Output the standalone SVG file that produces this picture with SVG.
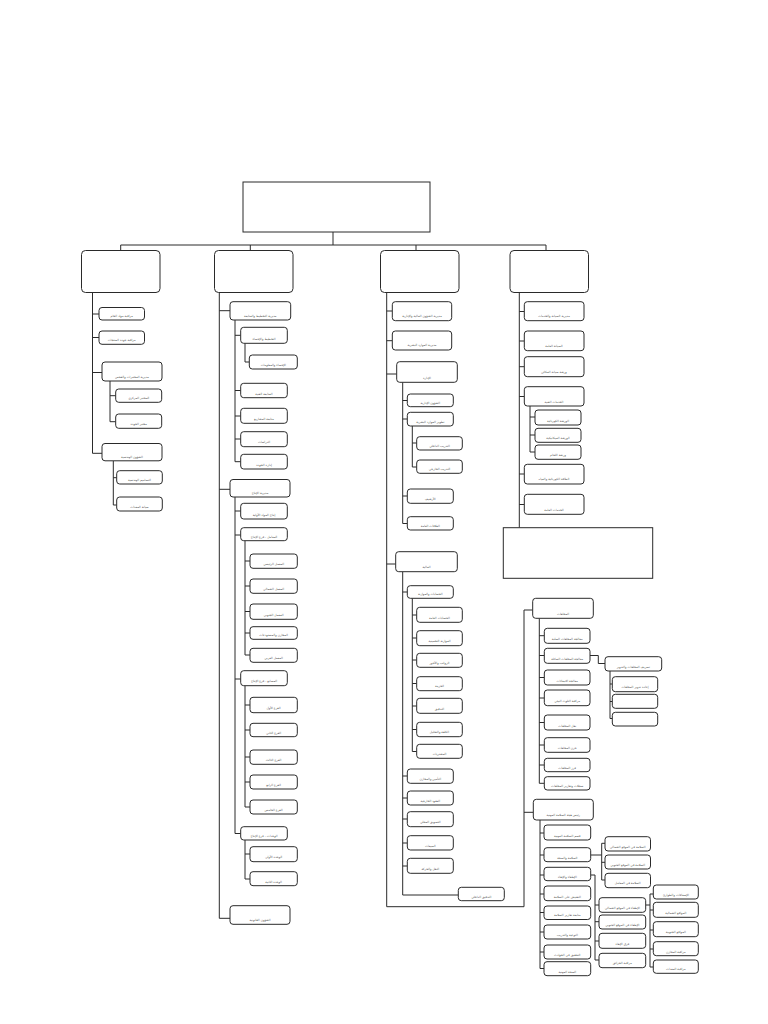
<svg xmlns="http://www.w3.org/2000/svg" width="768" height="1024" viewBox="0 0 768 1024">
<style>
rect{fill:#fff;stroke:#2a2a2a;stroke-width:1}
.n{rx:3;ry:3}
.b{rx:4;ry:4}
#connectors path{fill:none;stroke:#2a2a2a;stroke-width:1}
text{font-family:"DejaVu Sans",sans-serif;font-size:3.1px;fill:#555;text-anchor:middle}
</style>
<rect x="0" y="0" width="768" height="1024" style="stroke:none;fill:#fff"/>
<g id="connectors">
<path d="M333 232V245M120.7 245H546M120.7 245V250.5M250.3 245V250.5M416 245V250.5M546 245V250.5"/>
<path d="M92.5 292.5V453.3M92.5 314H99M92.5 337.5H99M92.5 372.5H102M92.5 453.3H102M110 381V421.7M110 395.7H115.7M110 421.7H115.7M113.3 461V505M113.3 477.7H116.7M113.3 505H116.7"/>
<path d="M219.3 292.5V918.3M219.3 310.7H230M219.3 489.3H230M219.3 918.3H230M235 320V461.7M235 335.3H240.7M235 390.5H240.7M235 416H240.7M235 439H240.7M235 461.7H240.7M245 343.3V362H249.3M235 497V833.5M235 511H240.7M235 535H240.7M235 679H240.7M235 833.5H240.7M245 540.7V655M245 561H250M245 586H250M245 611.5H250M245 633H250M245 655H250M245 685.7V807M245 705H250M245 730H250M245 757H250M245 782H250M245 807H250M245 840V879M245 854H250M245 879H250"/>
<path d="M386.7 292.5V906.7H524V610H532.7M386.7 311H392.3M386.7 340.7H392.3M386.7 374H396.7M386.7 564H395.7M402.7 382.3V523.5M402.7 400.5H407.3M402.7 419H407.3M402.7 496H407.3M402.7 523.5H407.3M412.3 426V467M412.3 443H416.7M412.3 467H416.7M402.7 571.7V895H458.3M402.7 592H407.3M402.7 776H407.3M402.7 798H407.3M402.7 819H407.3M402.7 843H407.3M402.7 866H407.3M412.3 598.3V751.5M412.3 615H416.7M412.3 638H416.7M412.3 660H416.7M412.3 683.5H416.7M412.3 706H416.7M412.3 729.5H416.7M412.3 751.5H416.7"/>
<path d="M519.3 292.5V527.7M519.3 311.5H524.3M519.3 341H524.3M519.3 366.7H524.3M519.3 396.5H524.3M519.3 474H524.3M519.3 504.5H524.3M530 406V452M530 417H535M530 435H535M530 452H535"/>
<path d="M539.3 618.3V783.3M539.3 635.7H544.3M539.3 655.5H544.3M539.3 677.5H544.3M539.3 698H544.3M539.3 722.5H544.3M539.3 745H544.3M539.3 765H544.3M539.3 783.3H544.3M590 655.5H598.3V663.5H605M610 671V718.5M610 684H612.3M610 701.5H612.3M610 718.5H612.3"/>
<path d="M524 812.3H533.3M540 820V968.5M540 833H544M540 855H544M540 875H544M540 894H544M540 912.5H544M540 932H544M540 952H544M540 968.5H544M590.7 855H601.7M601.7 843.3V880M601.7 843.3H605M601.7 862.3H605M601.7 880H605M590.7 875H595V960M595 905H599M595 921.7H599M595 941H599M595 960H599M645.7 905H650M650 894V967M650 894H653.3M650 910H653.3M650 930H653.3M650 949H653.3M650 967H653.3"/>
</g>
<g id="root"><rect x="243" y="182" width="187" height="50"/></g>
<g id="l1-1"><rect class="b" x="81.5" y="250.5" width="78.5" height="42"/></g>
<g id="l1-2"><rect class="b" x="214.5" y="250.5" width="78.5" height="42"/></g>
<g id="l1-3"><rect class="b" x="380.5" y="250.5" width="78.5" height="42"/></g>
<g id="l1-4"><rect class="b" x="510" y="250.5" width="78.5" height="42"/></g>
<g id="c1"><rect class="n" x="99" y="307.5" width="45.5" height="12.5"/><text x="121.7" y="317">مراقبة مواد الخام</text></g>
<g id="c2"><rect class="n" x="99" y="331" width="45.5" height="13.3"/><text x="121.7" y="341">مراقبة جودة المنتجات</text></g>
<g id="c3"><rect class="n" x="102" y="362" width="60" height="19"/><text x="132" y="377.5">مديرية المختبرات والفحص</text></g>
<g id="c3a"><rect class="n" x="115.7" y="389" width="46" height="13.3"/><text x="138.7" y="399">المختبر المركزي</text></g>
<g id="c3b"><rect class="n" x="115.7" y="414" width="46" height="14.3"/><text x="138.7" y="425">مختبر الجودة</text></g>
<g id="c4"><rect class="n" x="102" y="443.5" width="60" height="17.3"/><text x="132" y="457.5">الشؤون الهندسية</text></g>
<g id="c4a"><rect class="n" x="116.7" y="470.7" width="45.6" height="13.3"/><text x="139.5" y="480.7">التصاميم الهندسية</text></g>
<g id="c4b"><rect class="n" x="116.7" y="497" width="45.6" height="14"/><text x="139.5" y="507.8">صيانة المعدات</text></g>
<g id="A"><rect class="n" x="230" y="301.7" width="60.7" height="18.3"/><text x="260.3" y="316.5">مديرية التخطيط والمتابعة</text></g>
<g id="A1"><rect class="n" x="240.7" y="327.3" width="46.6" height="16"/><text x="264" y="340">التخطيط والإحصاء</text></g>
<g id="A1a"><rect class="n" x="249.3" y="355" width="48" height="14"/><text x="273.3" y="365.8">الإحصاء والمعلومات</text></g>
<g id="A2"><rect class="n" x="240.7" y="383.3" width="46.6" height="14.4"/><text x="264" y="394.5">المتابعة الفنية</text></g>
<g id="A3"><rect class="n" x="240.7" y="408.3" width="46.6" height="15"/><text x="264" y="420">متابعة المشاريع</text></g>
<g id="A4"><rect class="n" x="240.7" y="431.7" width="46.6" height="15"/><text x="264" y="443.4">الدراسات</text></g>
<g id="A5"><rect class="n" x="240.7" y="454.3" width="46.6" height="14.7"/><text x="264" y="465.8">إدارة الجودة</text></g>
<g id="B"><rect class="n" x="230" y="479.5" width="60" height="17.5"/><text x="260" y="493.5">مديرية الإنتاج</text></g>
<g id="B1"><rect class="n" x="240.7" y="503.3" width="46.6" height="15.7"/><text x="264" y="515.7">إنتاج المواد الأولية</text></g>
<g id="B2"><rect class="n" x="240.7" y="527.7" width="46.6" height="13"/><text x="264" y="537.8">المعامل - فرع الإنتاج</text></g>
<g id="B2a"><rect class="n" x="250" y="554" width="47.3" height="14.3"/><text x="273.6" y="565">المعمل الرئيسي</text></g>
<g id="B2b"><rect class="n" x="250" y="579" width="47.3" height="14.3"/><text x="273.6" y="590">المعمل الشمالي</text></g>
<g id="B2c"><rect class="n" x="250" y="604" width="47.3" height="15.3"/><text x="273.6" y="616">المعمل الجنوبي</text></g>
<g id="B2d"><rect class="n" x="250" y="626.7" width="47.3" height="12.6"/><text x="273.6" y="636.3">المخازن والمستودعات</text></g>
<g id="B2e"><rect class="n" x="250" y="648.3" width="47.3" height="14"/><text x="273.6" y="659">المعمل الغربي</text></g>
<g id="B3"><rect class="n" x="240.7" y="670.7" width="46.6" height="15"/><text x="264" y="682.4">المصانع - فرع الإنتاج</text></g>
<g id="B3a"><rect class="n" x="250" y="697.3" width="47.3" height="15.4"/><text x="273.6" y="709.4">الفرع الأول</text></g>
<g id="B3b"><rect class="n" x="250" y="723.3" width="47.3" height="13.4"/><text x="273.6" y="733.5">الفرع الثاني</text></g>
<g id="B3c"><rect class="n" x="250" y="750" width="47.3" height="14.3"/><text x="273.6" y="761">الفرع الثالث</text></g>
<g id="B3d"><rect class="n" x="250" y="775" width="47.3" height="14"/><text x="273.6" y="785.8">الفرع الرابع</text></g>
<g id="B3e"><rect class="n" x="250" y="800" width="47.3" height="14"/><text x="273.6" y="810.8">الفرع الخامس</text></g>
<g id="B4"><rect class="n" x="240.7" y="826.7" width="46.6" height="13.3"/><text x="264" y="836.8">الوحدات - فرع الإنتاج</text></g>
<g id="B4a"><rect class="n" x="250" y="846.7" width="47.3" height="15"/><text x="273.6" y="858.4">الوحدة الأولى</text></g>
<g id="B4b"><rect class="n" x="250" y="871.7" width="47.3" height="14"/><text x="273.6" y="882.5">الوحدة الثانية</text></g>
<g id="C"><rect class="n" x="230" y="905.7" width="60" height="18.6"/><text x="260" y="920.5">الشؤون القانونية</text></g>
<g id="D1"><rect class="n" x="392.3" y="301.7" width="59.4" height="19"/><text x="422" y="317">مديرية الشؤون المالية والإدارية</text></g>
<g id="D2"><rect class="n" x="392.3" y="331" width="59.4" height="19"/><text x="422" y="346.3">مديرية الموارد البشرية</text></g>
<g id="D3"><rect class="n" x="396.7" y="361.7" width="60.6" height="20.6"/><text x="427" y="378.5">الإدارة</text></g>
<g id="D3a"><rect class="n" x="407.3" y="394" width="46" height="12.7"/><text x="430.3" y="403.8">الشؤون الإدارية</text></g>
<g id="D3b"><rect class="n" x="407.3" y="412.3" width="46" height="13.7"/><text x="430.3" y="423">تطوير الموارد البشرية</text></g>
<g id="D3b1"><rect class="n" x="416.7" y="436.7" width="45.6" height="13.3"/><text x="439.5" y="446.8">التدريب الداخلي</text></g>
<g id="D3b2"><rect class="n" x="416.7" y="460" width="45.6" height="13.3"/><text x="439.5" y="470.2">التدريب الخارجي</text></g>
<g id="D3c"><rect class="n" x="407.3" y="489" width="46" height="14.3"/><text x="430.3" y="500">الأرشيف</text></g>
<g id="D3d"><rect class="n" x="407.3" y="516.7" width="46" height="13.3"/><text x="430.3" y="526.8">العلاقات العامة</text></g>
<g id="D4"><rect class="n" x="395.7" y="551.7" width="61.6" height="20"/><text x="426.5" y="568">المالية</text></g>
<g id="D4a"><rect class="n" x="407.3" y="585.7" width="46" height="12.6"/><text x="430.3" y="595.4">الحسابات والموازنة</text></g>
<g id="D4a1"><rect class="n" x="416.7" y="607.3" width="45.6" height="15"/><text x="439.5" y="619">الحسابات العامة</text></g>
<g id="D4a2"><rect class="n" x="416.7" y="630.7" width="45.6" height="15"/><text x="439.5" y="642.4">الموازنة التخمينية</text></g>
<g id="D4a3"><rect class="n" x="416.7" y="653.3" width="45.6" height="14"/><text x="439.5" y="664">الرواتب والأجور</text></g>
<g id="D4a4"><rect class="n" x="416.7" y="676.7" width="45.6" height="14"/><text x="439.5" y="687.4">الخزينة</text></g>
<g id="D4a5"><rect class="n" x="416.7" y="698.3" width="45.6" height="15"/><text x="439.5" y="710">التدقيق</text></g>
<g id="D4a6"><rect class="n" x="416.7" y="722.3" width="45.6" height="14.4"/><text x="439.5" y="733.4">الكلفة والتحليل</text></g>
<g id="D4a7"><rect class="n" x="416.7" y="744.3" width="45.6" height="14"/><text x="439.5" y="755">المشتريات</text></g>
<g id="D4b"><rect class="n" x="407.3" y="769" width="46" height="14.3"/><text x="430.3" y="780">التأمين والمخازن</text></g>
<g id="D4c"><rect class="n" x="407.3" y="791" width="46" height="14"/><text x="430.3" y="801.8">العقود الخارجية</text></g>
<g id="D4d"><rect class="n" x="407.3" y="811.7" width="46" height="15"/><text x="430.3" y="823.4">التسويق المحلي</text></g>
<g id="D4e"><rect class="n" x="407.3" y="835.7" width="46" height="14.3"/><text x="430.3" y="846.7">المبيعات</text></g>
<g id="D4f"><rect class="n" x="407.3" y="858.3" width="46" height="15"/><text x="430.3" y="870">النقل والحركة</text></g>
<g id="D4g"><rect class="n" x="458.3" y="887.3" width="46" height="13.4"/><text x="481.3" y="897.5">التدقيق الداخلي</text></g>
<g id="E1"><rect class="n" x="524.3" y="301.7" width="59.7" height="19"/><text x="554" y="317">مديرية الصيانة والخدمات</text></g>
<g id="E2"><rect class="n" x="524.3" y="331" width="59.7" height="19.7"/><text x="554" y="347">الصيانة العامة</text></g>
<g id="E3"><rect class="n" x="524.3" y="356.7" width="59.7" height="20"/><text x="554" y="373">ورشة صيانة المكائن</text></g>
<g id="E4"><rect class="n" x="524.3" y="386.7" width="59.7" height="19.3"/><text x="554" y="402.5">الخدمات الفنية</text></g>
<g id="E4a"><rect class="n" x="535" y="410" width="46" height="15"/><text x="558" y="421.7">الورشة الكهربائية</text></g>
<g id="E4b"><rect class="n" x="535" y="428.3" width="46" height="14"/><text x="558" y="439">الورشة الميكانيكية</text></g>
<g id="E4c"><rect class="n" x="535" y="445" width="46" height="14.3"/><text x="558" y="456">ورشة اللحام</text></g>
<g id="E5"><rect class="n" x="524.3" y="464.3" width="59.7" height="19.7"/><text x="554" y="480.3">الطاقة الكهربائية والمياه</text></g>
<g id="E6"><rect class="n" x="524.3" y="494.3" width="59.7" height="20"/><text x="554" y="510.5">الخدمات العامة</text></g>
<g id="E7"><rect x="503.3" y="527.7" width="149.4" height="50.6"/></g>
<g id="F"><rect class="n" x="532.7" y="598.3" width="60.6" height="20"/><text x="563" y="614.5">المخلفات</text></g>
<g id="F1"><rect class="n" x="544.3" y="628.3" width="45.7" height="15"/><text x="567.2" y="640">معالجة المخلفات الصلبة</text></g>
<g id="F2"><rect class="n" x="544.3" y="648.3" width="45.7" height="15"/><text x="567.2" y="660">معالجة المخلفات السائلة</text></g>
<g id="G"><rect class="n" x="605" y="656.7" width="56.7" height="14.3"/><text x="633.3" y="667.8">تصريف المخلفات والتدوير</text></g>
<g id="G1"><rect class="n" x="612.3" y="676.7" width="45.4" height="15"/><text x="635" y="688.4">إعادة تدوير المخلفات</text></g>
<g id="G2"><rect class="n" x="612.3" y="694.3" width="45.4" height="14"/></g>
<g id="G3"><rect class="n" x="612.3" y="712.3" width="45.4" height="13.7"/></g>
<g id="F3"><rect class="n" x="544.3" y="670" width="45.7" height="15"/><text x="567.2" y="681.7">معالجة الانبعاثات</text></g>
<g id="F4"><rect class="n" x="544.3" y="690" width="45.7" height="15.7"/><text x="567.2" y="702.3">مراقبة التلوث البيئي</text></g>
<g id="F5"><rect class="n" x="544.3" y="715" width="45.7" height="15"/><text x="567.2" y="726.7">نقل المخلفات</text></g>
<g id="F6"><rect class="n" x="544.3" y="737.7" width="45.7" height="14.6"/><text x="567.2" y="749">خزن المخلفات</text></g>
<g id="F7"><rect class="n" x="544.3" y="758.3" width="45.7" height="13.4"/><text x="567.2" y="768.5">فرز المخلفات</text></g>
<g id="F8"><rect class="n" x="544.3" y="776.7" width="45.7" height="13.3"/><text x="567.2" y="786.8">سجلات وتقارير المخلفات</text></g>
<g id="H"><rect class="n" x="533.3" y="799.3" width="60" height="20.7"/><text x="563.3" y="816">رئيس هيئة السلامة المهنية</text></g>
<g id="H1"><rect class="n" x="544" y="825" width="46.7" height="15"/><text x="567.3" y="836.7">قسم السلامة المهنية</text></g>
<g id="H2"><rect class="n" x="544" y="847.7" width="46.7" height="14"/><text x="567.3" y="858.5">السلامة والصحة</text></g>
<g id="I1"><rect class="n" x="605" y="836.7" width="45.5" height="14.3"/><text x="627.7" y="847.8">السلامة في الموقع الشمالي</text></g>
<g id="I2"><rect class="n" x="605" y="855" width="45.5" height="14"/><text x="627.7" y="865.8">السلامة في الموقع الجنوبي</text></g>
<g id="I3"><rect class="n" x="605" y="873.3" width="45.5" height="14.4"/><text x="627.7" y="884.4">السلامة في المعامل</text></g>
<g id="H3"><rect class="n" x="544" y="867.3" width="46.7" height="13.4"/><text x="567.3" y="877.5">الإطفاء والإنقاذ</text></g>
<g id="J1"><rect class="n" x="599" y="897.7" width="46.7" height="14.6"/><text x="622.3" y="909">الإطفاء في الموقع الشمالي</text></g>
<g id="J2"><rect class="n" x="599" y="915" width="46.7" height="14"/><text x="622.3" y="925.8">الإطفاء في الموقع الجنوبي</text></g>
<g id="J3"><rect class="n" x="599" y="933.3" width="46.7" height="15"/><text x="622.3" y="945">فرق الإنقاذ</text></g>
<g id="J4"><rect class="n" x="599" y="953.3" width="46.7" height="14.4"/><text x="622.3" y="964.4">مراقبة الحرائق</text></g>
<g id="K1"><rect class="n" x="653.3" y="885" width="45" height="14"/><text x="675.8" y="895.8">الإسعافات والطوارئ</text></g>
<g id="K2"><rect class="n" x="653.3" y="902.3" width="45" height="15"/><text x="675.8" y="914">المواقع الشمالية</text></g>
<g id="K3"><rect class="n" x="653.3" y="921.7" width="45" height="15"/><text x="675.8" y="933.4">المواقع الجنوبية</text></g>
<g id="K4"><rect class="n" x="653.3" y="941.7" width="45" height="14"/><text x="675.8" y="952.5">مراقبة المخازن</text></g>
<g id="K5"><rect class="n" x="653.3" y="960" width="45" height="13.3"/><text x="675.8" y="970.2">مراقبة المعدات</text></g>
<g id="H4"><rect class="n" x="544" y="886" width="46.7" height="14.7"/><text x="567.3" y="897.5">التفتيش على السلامة</text></g>
<g id="H5"><rect class="n" x="544" y="906" width="46.7" height="13.5"/><text x="567.3" y="916.3">متابعة تقارير السلامة</text></g>
<g id="H6"><rect class="n" x="544" y="925" width="46.7" height="14"/><text x="567.3" y="935.8">التوعية والتدريب</text></g>
<g id="H7"><rect class="n" x="544" y="945" width="46.7" height="14"/><text x="567.3" y="955.8">التحقيق في الحوادث</text></g>
<g id="H8"><rect class="n" x="544" y="961.7" width="46.7" height="14"/><text x="567.3" y="972.5">الصحة المهنية</text></g>
</svg>
